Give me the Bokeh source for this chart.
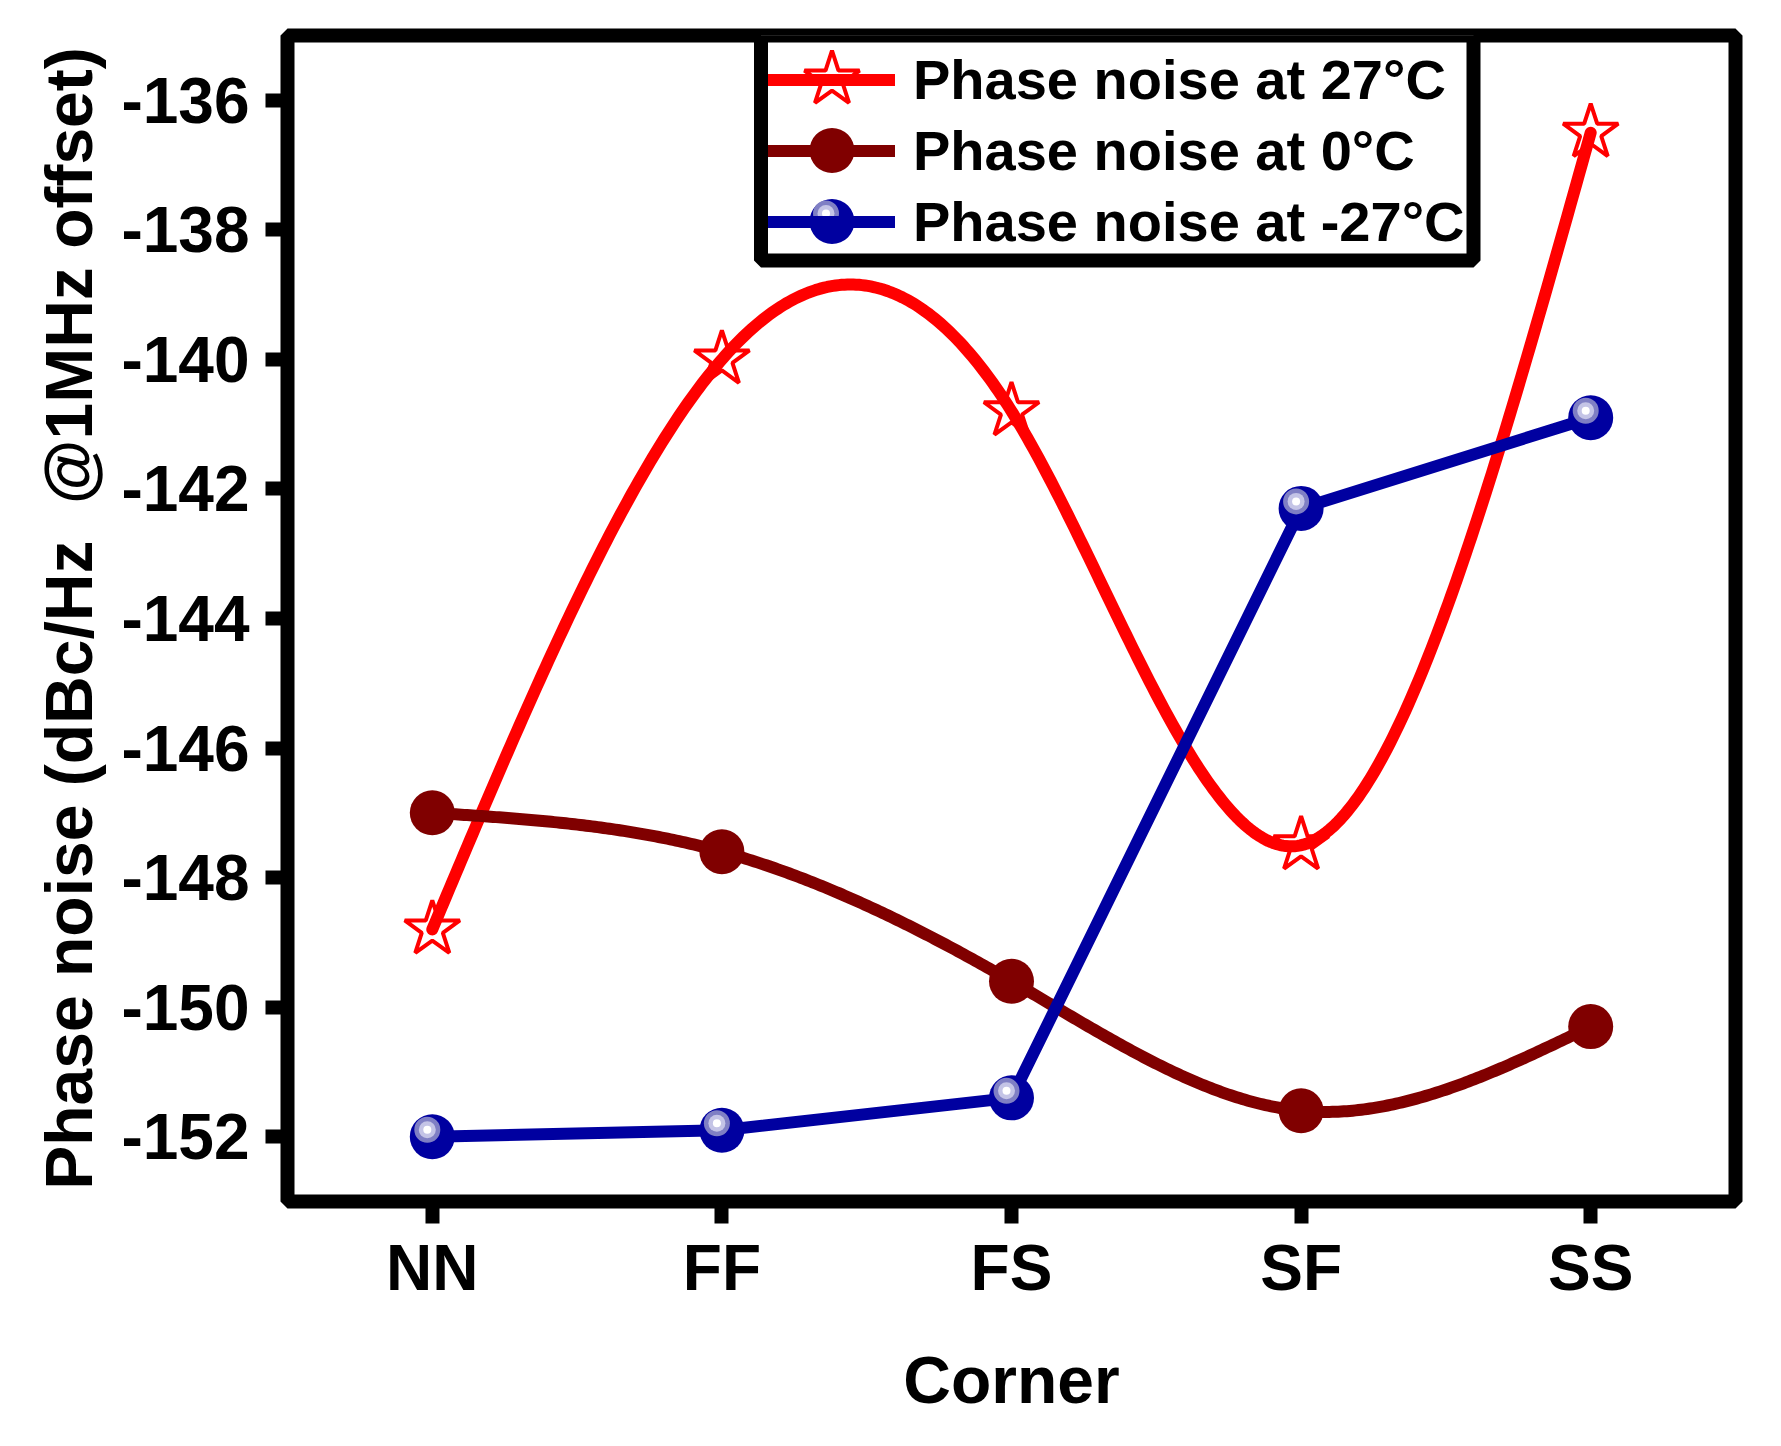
import numpy as np
from bokeh.plotting import figure
from bokeh.models import Range1d, FixedTicker, Legend, LegendItem, BoxAnnotation
from bokeh.embed import file_html
from bokeh.resources import INLINE

# ---------------- data ----------------
corners = ["NN", "FF", "FS", "SF", "SS"]
pn_27c = [-148.8, -140.0, -140.8, -147.5, -136.5]
pn_0c = [-147.0, -147.6, -149.6, -151.6, -150.3]
pn_m27c = [-152.0, -151.9, -151.4, -142.3, -140.9]
y_ticks = [-136, -138, -140, -142, -144, -146, -148, -150, -152]
labels = ["Phase noise at 27°C", "Phase noise at 0°C", "Phase noise at -27°C"]

# ---------------- layout ----------------
W, H = 1765, 1430
B_LEFT, B_TOP = 287, 35
FRAME_W, FRAME_H = 1448, 1166
B_RIGHT = W - B_LEFT - FRAME_W
B_BOTTOM = H - B_TOP - FRAME_H
X0, X1 = -0.5, 4.5
Y0, Y1 = -153.0, -135.0
FONT = "Liberation Sans"

RED = "#FF0000"
BROWN = "#800000"
BLUE = "#0000A0"

# legend layout (pixels inside the plot frame)
LEG_X = 481            # left of legend glyph area from frame left
LEG_TOP = 8.5          # top of first legend row below frame top
ROW_H = 71
GLYPH_W = 127
BOX_L, BOX_R, BOX_B = 473.5, 1186, 941   # legend frame (from frame bottom-left)


def natural_spline(xk, yk, num=400):
    xk = np.asarray(xk, float)
    yk = np.asarray(yk, float)
    n = len(xk)
    h = np.diff(xk)
    A = np.zeros((n, n))
    r = np.zeros(n)
    A[0, 0] = A[-1, -1] = 1.0
    for i in range(1, n - 1):
        A[i, i - 1] = h[i - 1]
        A[i, i] = 2 * (h[i - 1] + h[i])
        A[i, i + 1] = h[i]
        r[i] = 6 * ((yk[i + 1] - yk[i]) / h[i] - (yk[i] - yk[i - 1]) / h[i - 1])
    M = np.linalg.solve(A, r)
    xs = np.linspace(xk[0], xk[-1], num)
    idx = np.clip(np.searchsorted(xk, xs) - 1, 0, n - 2)
    x0, x1 = xk[idx], xk[idx + 1]
    hh = x1 - x0
    t0 = (x1 - xs)
    t1 = (xs - x0)
    ys = (M[idx] * t0 ** 3 / (6 * hh) + M[idx + 1] * t1 ** 3 / (6 * hh)
          + (yk[idx] / hh - M[idx] * hh / 6) * t0
          + (yk[idx + 1] / hh - M[idx + 1] * hh / 6) * t1)
    return xs, ys


xk = list(range(len(corners)))

p = figure(width=W, height=H, output_backend="svg", toolbar_location=None,
           x_range=Range1d(X0, X1), y_range=Range1d(Y0, Y1),
           min_border_left=B_LEFT, min_border_right=B_RIGHT,
           min_border_top=B_TOP, min_border_bottom=B_BOTTOM)
p.extra_x_ranges = {"px": Range1d(0, FRAME_W)}
p.extra_y_ranges = {"px": Range1d(FRAME_H, 0)}
p.xgrid.visible = False
p.ygrid.visible = False
p.outline_line_color = "black"
p.outline_line_width = 14
p.outline_line_alpha = 1.0
p.background_fill_color = "white"
p.border_fill_color = "white"

# axes
p.xaxis.ticker = FixedTicker(ticks=xk)
p.xaxis.major_label_overrides = {i: c for i, c in enumerate(corners)}
p.yaxis.ticker = FixedTicker(ticks=y_ticks)
p.yaxis.major_label_overrides = {v: str(v) for v in y_ticks}
p.xaxis.axis_label = "Corner"
p.yaxis.axis_label = "Phase noise (dBc/Hz\u00a0 @1MHz offset)"
for ax in (p.xaxis[0], p.yaxis[0]):
    ax.axis_line_color = None
    ax.major_tick_line_color = "black"
    ax.major_tick_line_width = 14
    ax.major_tick_out = 22
    ax.major_tick_in = 0
    ax.minor_tick_line_color = None
    ax.major_label_text_font = FONT
    ax.major_label_text_font_style = "bold"
    ax.major_label_text_font_size = "64px"
    ax.major_label_text_color = "black"
    ax.axis_label_text_font = FONT
    ax.axis_label_text_font_style = "bold"
    ax.axis_label_text_font_size = "66px"
    ax.axis_label_text_color = "black"
p.xaxis.major_label_standoff = 8
p.yaxis.major_label_standoff = 16
p.xaxis.axis_label_standoff = 36
p.yaxis.axis_label_standoff = 12

# legend frame
box = BoxAnnotation(left=BOX_L, right=BOX_R, bottom=BOX_B, top=FRAME_H,
                    left_units="screen", right_units="screen",
                    bottom_units="screen", top_units="screen",
                    fill_color="white", fill_alpha=1.0,
                    line_color="black", line_width=14, line_alpha=1.0)
p.add_layout(box)

STAR = dict(marker="star", size=58, fill_color=None, line_color=RED, line_width=4)
BROWN_DOT = dict(marker="circle", size=45, fill_color=BROWN, line_color=None)
BLUE_DOT = dict(marker="circle", size=45, fill_color=BLUE, line_color=None)
HL = [(26, "#7F7FC4"), (17, "#C4C4E6"), (8, "white")]

# series
sx, sy = natural_spline(xk, pn_27c)
r_line = p.line(sx, sy, line_color=RED, line_width=12, line_cap="round", line_join="round")
p.scatter(xk, pn_27c, **STAR)

bx, by = natural_spline(xk, pn_0c)
b_line = p.line(bx, by, line_color=BROWN, line_width=12, line_cap="round", line_join="round")
p.scatter(xk, pn_0c, **BROWN_DOT)

n_line = p.line(xk, pn_m27c, line_color=BLUE, line_width=12, line_cap="round", line_join="round")
p.scatter(xk, pn_m27c, **BLUE_DOT)

# highlight of the blue balls (offset up-left by a few pixels)
px_x = (X1 - X0) / FRAME_W
px_y = (Y1 - Y0) / FRAME_H
hx = [v - 5 * px_x for v in xk]
hy = [v + 7 * px_y for v in pn_m27c]
for s, c in HL:
    p.scatter(hx, hy, marker="circle", size=s, fill_color=c, line_color=None)

legend = Legend(items=[LegendItem(label=labels[0], renderers=[r_line]),
                       LegendItem(label=labels[1], renderers=[b_line]),
                       LegendItem(label=labels[2], renderers=[n_line])],
                location=(LEG_X, FRAME_H - LEG_TOP - 3 * ROW_H), orientation="vertical",
                glyph_width=GLYPH_W, glyph_height=ROW_H, label_height=ROW_H,
                spacing=0, padding=0, margin=0, label_standoff=18,
                border_line_color=None, background_fill_alpha=0.0,
                label_text_font=FONT, label_text_font_style="bold",
                label_text_font_size="56px", label_text_color="black")
p.add_layout(legend)

# legend markers drawn on top of the legend lines (frame-pixel coordinates)
mx = LEG_X + GLYPH_W / 2
my = [LEG_TOP + ROW_H * (i + 0.5) for i in range(3)]
p.scatter([mx], [my[0]], x_range_name="px", y_range_name="px", level="overlay", **STAR)
p.scatter([mx], [my[1]], x_range_name="px", y_range_name="px", level="overlay", **BROWN_DOT)
p.scatter([mx], [my[2]], x_range_name="px", y_range_name="px", level="overlay", **BLUE_DOT)
for s, c in HL:
    p.scatter([mx - 6], [my[2] - 8], x_range_name="px", y_range_name="px", level="overlay",
              marker="circle", size=s, fill_color=c, line_color=None)

open("out.html", "w").write(file_html(p, INLINE))
